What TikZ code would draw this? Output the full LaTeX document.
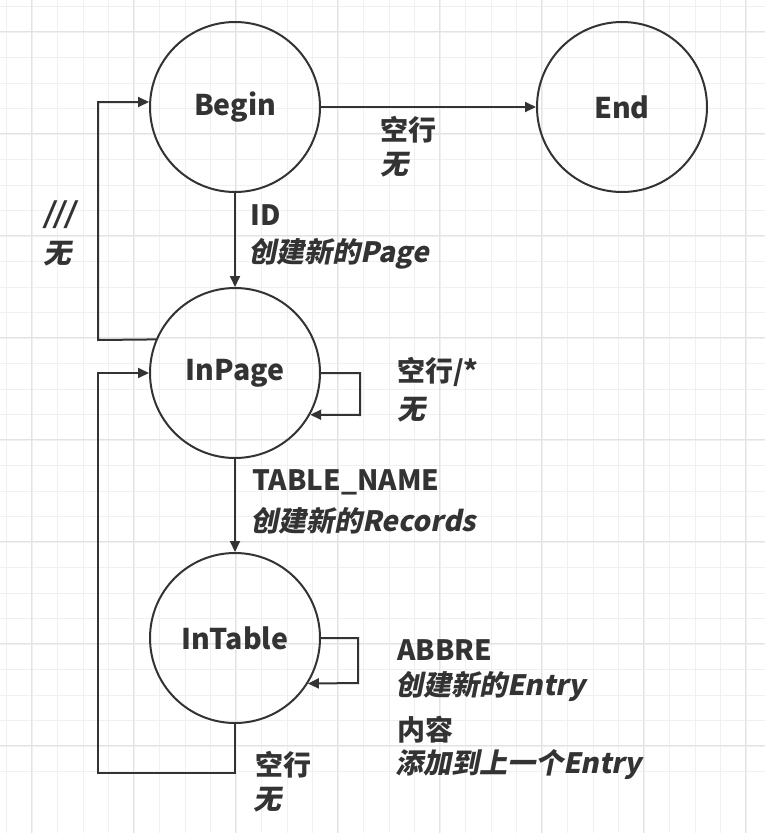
\documentclass[tikz,border=0pt]{standalone}
\usepackage{fontspec}
\setmainfont{Noto Sans CJK SC}
\newfontfamily\labi{Noto Sans CJK SC}[FakeSlant=0.2]
\usetikzlibrary{arrows.meta}
\definecolor{ink}{HTML}{333333}
\begin{document}
\begin{tikzpicture}[x=1pt,y=-1pt,
  st/.style={circle,draw=ink,line width=2pt,minimum size=170pt,inner sep=0pt,font=\fontsize{28.5}{30}\selectfont\bfseries,text=ink},
  ar/.style={draw=ink,line width=2pt,-{Triangle[length=11pt,width=10pt]}},
  lb/.style={anchor=west,inner sep=0pt,text=ink,font=\fontsize{28}{30}\selectfont\bfseries},
  li/.style={anchor=west,inner sep=0pt,text=ink,font=\fontsize{28}{30}\selectfont\labi\bfseries}]
\useasboundingbox (0,0) rectangle (765,833);
\fill[white] (0,0) rectangle (765,833);
\foreach \i in {0,...,30} {
  \draw[gray!12,line width=0.8pt] (6.5+25.5*\i,0) -- (6.5+25.5*\i,833);
  \draw[gray!12,line width=0.8pt] (0,6.5+25.5*\i) -- (765,6.5+25.5*\i);
}
\foreach \i in {0,...,8} {
  \draw[gray!22,line width=0.8pt] (31+102*\i,0) -- (31+102*\i,833);
  \draw[gray!22,line width=0.8pt] (0,31+102*\i) -- (765,31+102*\i);
}
\node[st] (begin) at (235,107) {Begin};
\node[st] (end) at (622,107) {End};
\node[st] (inpage) at (235,373) {InPage};
\node[st] (intable) at (235,638) {InTable};
\coordinate (c1) at (98,102);
\coordinate (c2) at (98,340);
\coordinate (c3) at (98,773);
\coordinate (c4) at (98,373);
\coordinate (c5) at (235,773);
\coordinate (p1) at (360,373);
\coordinate (p2) at (360,415);
\coordinate (t1) at (358,638);
\coordinate (t2) at (358,683);
\draw[ar] (begin) -- (end);
\draw[ar] (begin) -- (inpage);
\draw[ar] (inpage) -- (intable);
\draw[ar] (inpage.180-23) -- (c2) -- (c1) -- (begin.west|-c1);
\draw[ar] (intable.south) -- (c5) -- (c3) -- (c4) -- (inpage.west);
\draw[ar] (inpage.east) -- (p1) -- (p2) -- (inpage.-29.6);
\draw[ar] (intable.east) -- (t1) -- (t2) -- (intable.-32);
\node[lb] (l1) at (380,130) {空行};
\node[li] (l2) at (380,165) {无};
\node[lb] (l3) at (250,215) {ID};
\node[li] (l4) at (248,254) {创建新的Page};
\node[li] (l5) at (43,215) {///};
\node[li] (l6) at (43,254) {无};
\node[lb] (l7) at (397,372) {空行/*};
\node[li] (l8) at (397,410) {无};
\node[lb] (l9) at (252,482) {TABLE\_NAME};
\node[li] (l10) at (250,521) {创建新的Records};
\node[lb] (l11) at (397,650) {ABBRE};
\node[li] (l12) at (395,686) {创建新的Entry};
\node[lb] (l13) at (397,730) {内容};
\node[li] (l14) at (395,765) {添加到上一个Entry};
\node[lb] (l15) at (255,765) {空行};
\node[li] (l16) at (253,800) {无};
\end{tikzpicture}
\end{document}
